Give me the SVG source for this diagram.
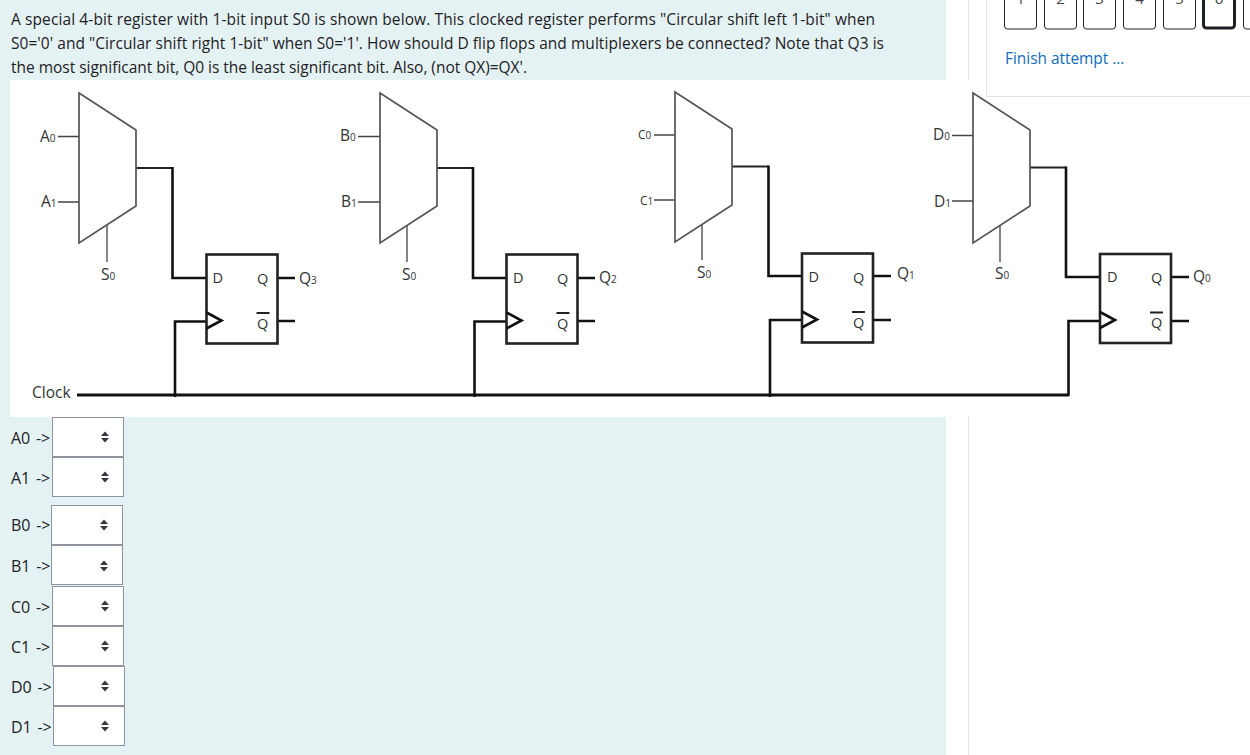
<svg xmlns="http://www.w3.org/2000/svg" xmlns:xlink="http://www.w3.org/1999/xlink" width="1250" height="755" viewBox="0 0 1250 755">
<style>
text{font-family:"Open Sans","Noto Sans","Liberation Sans",sans-serif}
.q{font-size:15.5px;fill:#1d2125}
.o{font-size:16px;fill:#1d2125;word-spacing:1.5px}
.l{font-size:15.5px;fill:#333}
.f{font-size:14.5px;fill:#333}
.t{font-size:15.5px;fill:#333}
.c{font-size:12px;fill:#333}
tspan{font-size:10px}
.sel{fill:#fff;stroke:#8f959e;stroke-width:1}
.thin{fill:none;stroke:#444;stroke-width:1.3}
.mux{fill:#fff;stroke:#555;stroke-width:1.7}
.w{fill:none;stroke:#111;stroke-width:2.6}
.ws{fill:none;stroke:#222;stroke-width:1.8}
.bus{fill:none;stroke:#111;stroke-width:3}
.ff{fill:#fff;stroke:#222;stroke-width:2.6}
.tri{fill:none;stroke:#111;stroke-width:2.6}
.bar{stroke:#222;stroke-width:2}
.b{fill:#fff;stroke:#1d2125;stroke-width:1}
.bt{fill:#fff;stroke:#1d2125;stroke-width:3}
.n{font-size:15px;fill:#444;text-anchor:middle}
.ar{fill:#343a40}
</style>
<defs>
<g id="updown"><path class="ar" d="M0-5.500 4-1H-4ZM0 5.500 4 1H-4Z"/></g>
<g id="muxshape"><path class="mux" d="M0 0 57 37V113L0 150Z"/></g>
<g id="ffshape"><rect class="ff" x="0" y="0" width="71" height="89"/><path class="tri" d="M0 58 15 66 0 74"/><path class="bar" d="M50 58.500H63"/></g>
</defs>
<rect width="1250" height="755" fill="#fff"/>
<rect id="panel" x="0" y="0" width="946" height="755" fill="#e5f2f3"/>
<rect x="10" y="80" width="936" height="337" fill="#fff"/>
<path d="M968.500 0V80M968.500 417V755M986.500 0V96.500H1250" fill="none" stroke="#dee2e6"/>
<g id="question">
<text class="q" x="11" y="25" textLength="864">A special 4-bit register with 1-bit input S0 is shown below. This clocked register performs "Circular shift left 1-bit" when</text>
<text class="q" x="11" y="49" textLength="873">S0='0' and "Circular shift right 1-bit" when S0='1'. How should D flip flops and multiplexers be connected? Note that Q3 is</text>
<text class="q" x="11" y="73" textLength="516">the most significant bit, Q0 is the least significant bit. Also, (not QX)=QX'.</text>
</g>
<g id="connectors">
<path class="bus" d="M77 395H1069"/>
<path class="ws" d="M136 168H172.500M436.500 168H473M731 166.500H768.500M1029.500 167.500H1066"/>
<path class="w" d="M172.500 167V278H206M175 397V321.500H206M277 278H295M277 321H295"/>
<path class="w" d="M473 167V278H506M474.500 397V321.500H506M577 278H595M577 321H595"/>
<path class="w" d="M768.500 165.500V276H802M770 397V320H802M873 276H891M873 320H891"/>
<path class="w" d="M1066 166.500V277H1100M1068.500 396V321H1100M1171 277H1189M1171 321H1189"/>
<path class="thin" d="M58 136.500H79M58 202H79M107 225V262M358 136.500H380M358 202H380M407 225V262M654 135H675M654 200H675M702 224V260M952 135.500H973M952 201H973M1000 225V262"/>
</g>
<g id="mux-a"><use xlink:href="#muxshape" x="79" y="93"/><text class="l" x="40" y="142">A<tspan>0</tspan></text><text class="l" x="41" y="207">A<tspan>1</tspan></text><text class="l" x="101" y="280">S<tspan>0</tspan></text></g>
<g id="mux-b"><use xlink:href="#muxshape" x="380" y="93"/><text class="l" x="340" y="141">B<tspan>0</tspan></text><text class="l" x="341" y="207">B<tspan>1</tspan></text><text class="l" x="402" y="280">S<tspan>0</tspan></text></g>
<g id="mux-c"><use xlink:href="#muxshape" x="675" y="92"/><text class="c" x="638" y="139">C<tspan>0</tspan></text><text class="c" x="640" y="205">C<tspan>1</tspan></text><text class="l" x="697" y="278">S<tspan>0</tspan></text></g>
<g id="mux-d"><use xlink:href="#muxshape" x="973" y="93"/><text class="l" x="933" y="140">D<tspan>0</tspan></text><text class="l" x="934" y="207">D<tspan>1</tspan></text><text class="l" x="995" y="279">S<tspan>0</tspan></text></g>
<g id="ff-3"><use xlink:href="#ffshape" x="206.500" y="254.500"/><text class="f" x="212.500" y="283">D</text><text class="f" x="257" y="283.500">Q</text><text class="f" x="257" y="329">Q</text><text class="t" x="299" y="284">Q<tspan>3</tspan></text></g>
<g id="ff-2"><use xlink:href="#ffshape" x="506.500" y="254.500"/><text class="f" x="513" y="283">D</text><text class="f" x="557" y="283.500">Q</text><text class="f" x="557" y="329">Q</text><text class="t" x="599" y="283">Q<tspan>2</tspan></text></g>
<g id="ff-1"><use xlink:href="#ffshape" x="802" y="253.500"/><text class="f" x="808.500" y="282">D</text><text class="f" x="853" y="282.500">Q</text><text class="f" x="853" y="328">Q</text><text class="t" x="897" y="279">Q<tspan>1</tspan></text></g>
<g id="ff-0"><use xlink:href="#ffshape" x="1100" y="254"/><text class="f" x="1107" y="282">D</text><text class="f" x="1151" y="282.500">Q</text><text class="f" x="1151" y="328">Q</text><text class="t" x="1193" y="282">Q<tspan>0</tspan></text></g>
<text id="clock" class="l" x="32" y="398">Clock</text>
<g id="selects">
<g id="sel-a0"><text class="o" x="11" y="444">A0 -&gt;</text><rect class="sel" x="52.500" y="417.500" width="71" height="39"/><use xlink:href="#updown" x="105" y="437"/></g>
<g id="sel-a1"><text class="o" x="11" y="484">A1 -&gt;</text><rect class="sel" x="52.500" y="457.500" width="71" height="39"/><use xlink:href="#updown" x="105" y="477"/></g>
<g id="sel-b0"><text class="o" x="11" y="531">B0 -&gt;</text><rect class="sel" x="51.500" y="505.500" width="71" height="39"/><use xlink:href="#updown" x="104" y="525"/></g>
<g id="sel-b1"><text class="o" x="11" y="572">B1 -&gt;</text><rect class="sel" x="51.500" y="545.500" width="71" height="39"/><use xlink:href="#updown" x="104" y="566"/></g>
<g id="sel-c0"><text class="o" x="11" y="613">C0 -&gt;</text><rect class="sel" x="52.500" y="586.500" width="71" height="39"/><use xlink:href="#updown" x="105" y="606"/></g>
<g id="sel-c1"><text class="o" x="11" y="653">C1 -&gt;</text><rect class="sel" x="52.500" y="626.500" width="71" height="39"/><use xlink:href="#updown" x="105" y="646"/></g>
<g id="sel-d0"><text class="o" x="11" y="693">D0 -&gt;</text><rect class="sel" x="53.500" y="666.500" width="71" height="39"/><use xlink:href="#updown" x="105" y="686"/></g>
<g id="sel-d1"><text class="o" x="11" y="733">D1 -&gt;</text><rect class="sel" x="53.500" y="706.500" width="71" height="39"/><use xlink:href="#updown" x="105" y="726"/></g>
</g>
<g id="nav">
<rect class="b" x="1004.500" y="-10" width="32" height="39" rx="3"/><text class="n" x="1020.500" y="3.500">1</text>
<rect class="b" x="1044.500" y="-10" width="32" height="39" rx="3"/><text class="n" x="1060.500" y="3.500">2</text>
<rect class="b" x="1083.500" y="-10" width="32" height="39" rx="3"/><text class="n" x="1099.500" y="3.500">3</text>
<rect class="b" x="1123.500" y="-10" width="32" height="39" rx="3"/><text class="n" x="1139.500" y="3.500">4</text>
<rect class="b" x="1163.500" y="-10" width="32" height="39" rx="3"/><text class="n" x="1179.500" y="3.500">5</text>
<rect class="bt" x="1203.500" y="-10" width="31" height="38" rx="3"/><text class="n" x="1219" y="3.500">6</text>
<rect class="b" x="1243.500" y="-10" width="32" height="39" rx="3"/>
<text x="1005" y="64" font-size="15.4" fill="#0f6cbf">Finish attempt ...</text>
</g>
</svg>
